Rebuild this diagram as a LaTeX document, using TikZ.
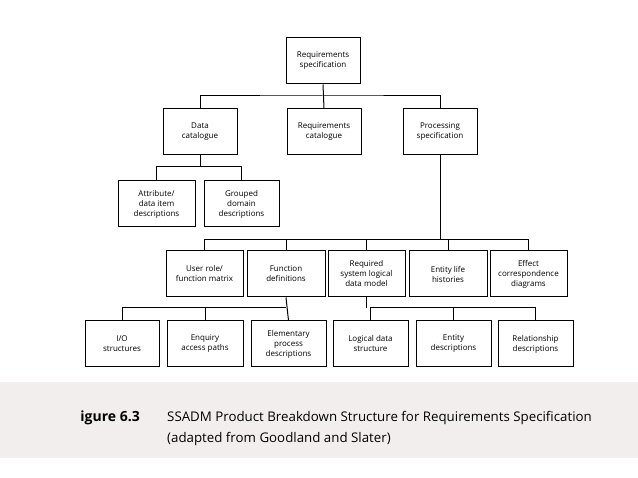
\documentclass[tikz,border=0pt]{standalone}
\usepackage{fontspec}
\setmainfont{Open Sans}
\begin{document}
\begin{tikzpicture}[x=1pt,y=-1pt,
  bx/.style={draw,line width=1pt,align=center,font=\fontsize{8}{10}\selectfont,inner sep=0pt},
  ln/.style={line width=1pt}]
\useasboundingbox (0,0) rectangle (638,478);
\fill[white] (0,0) rectangle (638,478);
\definecolor{capbg}{HTML}{F3EEEE}
\fill[capbg] (0,382) rectangle (638,458);
\newcommand{\bxat}[6]{\node[bx,minimum width=#3-#2,minimum height=#5-#4] (#1) at ({(#2+#3)/2},{(#4+#5)/2}) {#6};}
\bxat{rs}{286}{360}{38}{84}{Requirements\\specification}
\bxat{dc}{163}{237}{109}{155}{Data\\catalogue}
\bxat{rc}{287}{361}{109}{155}{Requirements\\catalogue}
\bxat{ps}{403}{477}{109}{155}{Processing\\specification}
\bxat{at}{118}{195}{181}{227}{Attribute/\\data item\\descriptions}
\bxat{gd}{204}{279}{181}{227}{Grouped\\domain\\descriptions}
\bxat{ur}{166}{243}{251}{297}{User role/\\function matrix}
\bxat{fd}{247}{325}{251}{297}{Function\\definitions}
\bxat{rq}{328}{405}{251}{297}{Required\\system logical\\data model}
\bxat{el}{409}{487}{251}{297}{Entity life\\histories}
\bxat{ec}{490}{567}{251}{297}{Effect\\correspondence\\diagrams}
\bxat{io}{85}{159}{321}{367}{I/O\\structures}
\bxat{eq}{167}{243}{321}{367}{Enquiry\\access paths}
\bxat{ep}{251}{326}{321}{367}{Elementary\\process\\descriptions}
\bxat{ld}{333}{408}{321}{367}{Logical data\\structure}
\bxat{ed}{416}{491}{321}{367}{Entity\\descriptions}
\bxat{rd}{498}{573}{321}{367}{Relationship\\descriptions}
% level 1
\draw[ln] (rs.south) -- (rc.north);
\draw[ln] (dc.north) |- (rs.south |- 0,96) -| (ps.north);
% data catalogue
\draw[ln] (dc.south) -- (dc.south |- 0,167);
\draw[ln] (at.north) |- (gd.north |- 0,167) -- (gd.north);
% processing
\draw[ln] (ps.south) -- (ps.south |- 0,240);
\draw[ln] (ur.north) |- (ec.north |- 0,240) -- (ec.north);
\foreach \n in {fd,rq,el} \draw[ln] (\n.north) -- (\n.north |- 0,240);
% function definitions
\draw[ln] (fd.south) -- (ep.north);
\draw[ln] (io.north) |- (fd.south |- 0,308);
\draw[ln] (eq.north) -- (eq.north |- 0,308);
% required
\draw[ln] (rq.south) -- (rq.south |- 0,308);
\draw[ln] (ld.north) |- (rd.north |- 0,308) -- (rd.north);
\draw[ln] (ed.north) -- (ed.north |- 0,308);
\node[anchor=east,font=\fontsize{14}{16}\selectfont\bfseries,inner sep=0pt] (c0) at (140,418) {igure 6.3};
\node[anchor=west,font=\fontsize{13.3}{16}\selectfont,inner sep=0pt] (c1) at (167,418) {SSADM Product Breakdown Structure for Requirements Specification};
\node[anchor=west,font=\fontsize{13.3}{16}\selectfont,inner sep=0pt] (c2) at (167,439) {(adapted from Goodland and Slater)};
\end{tikzpicture}
\end{document}
